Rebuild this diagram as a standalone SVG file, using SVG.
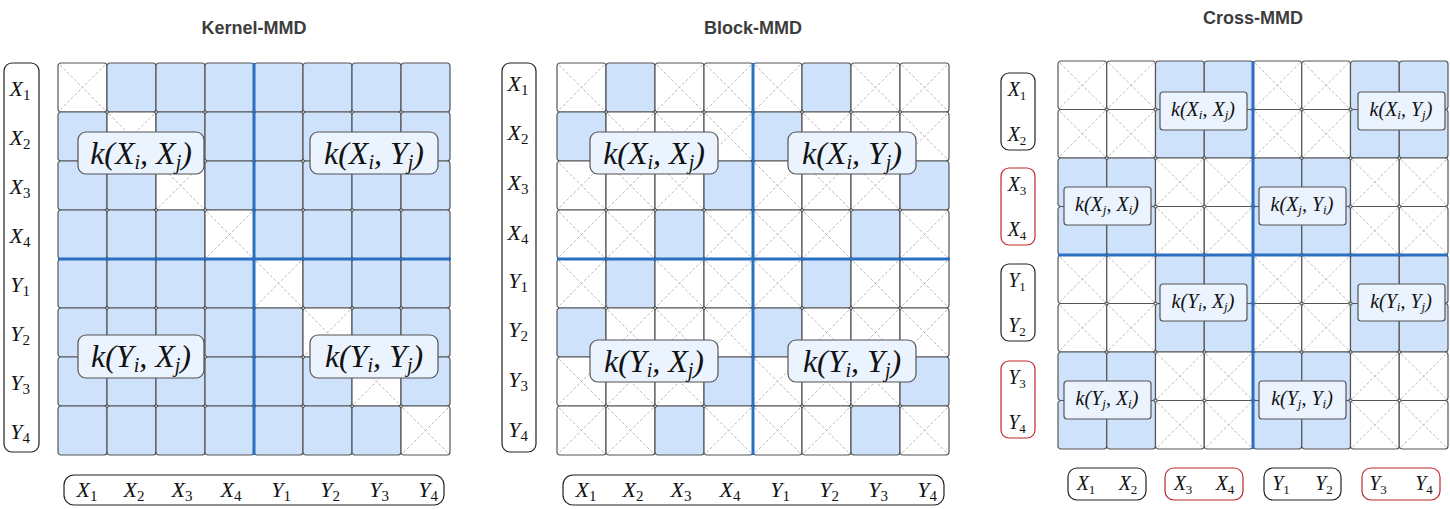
<svg xmlns="http://www.w3.org/2000/svg" xmlns:xlink="http://www.w3.org/1999/xlink" width="1450" height="509" viewBox="0 0 1450 509">
<style>
.t{font-family:"Liberation Sans",Arial,sans-serif;font-weight:bold;font-size:18px;fill:#3d3d3d;text-anchor:middle}
.m{font-family:"Liberation Serif","Times New Roman",serif;font-style:italic;fill:#111;text-anchor:middle}
.n{font-style:normal}
.lb{fill:#fff;stroke:#222;stroke-width:1.2}
.lr{fill:#fff;stroke:#c0282a;stroke-width:1.2}
.kb{fill:#eaf3fe;stroke:#555;stroke-width:1.2}
.bl{fill:#cfe2fb;stroke:#555;stroke-width:1.2}
.wh{fill:#fff;stroke:#555;stroke-width:1.2}
.dg{stroke:#aaa;stroke-width:0.8;stroke-dasharray:3,2}
.sep{stroke:#2a6fc0;stroke-width:3}
</style>
<defs>
<rect id="b" width="49" height="49" rx="3" class="bl"/>
<g id="x"><rect width="49" height="49" rx="3" class="wh"/><path class="dg" d="M2 2L47 47M47 2L2 47"/></g>
<rect id="b2" width="48.75" height="48.5" rx="3" class="bl"/>
<g id="x2"><rect width="48.75" height="48.5" rx="3" class="wh"/><path class="dg" d="M2 2L46.75 46.5M46.75 2L2 46.5"/></g>
</defs>

<text class="t" x="254" y="34">Kernel-MMD</text>
<text class="t" x="753" y="34">Block-MMD</text>
<text class="t" x="1253" y="24">Cross-MMD</text>

<!-- Kernel grid -->
<g id="kernel-grid" transform="translate(58,63)">
<use href="#x" x="0" y="0"/><use href="#b" x="49" y="0"/><use href="#b" x="98" y="0"/><use href="#b" x="147" y="0"/><use href="#b" x="196" y="0"/><use href="#b" x="245" y="0"/><use href="#b" x="294" y="0"/><use href="#b" x="343" y="0"/>
<use href="#b" x="0" y="49"/><use href="#x" x="49" y="49"/><use href="#b" x="98" y="49"/><use href="#b" x="147" y="49"/><use href="#b" x="196" y="49"/><use href="#b" x="245" y="49"/><use href="#b" x="294" y="49"/><use href="#b" x="343" y="49"/>
<use href="#b" x="0" y="98"/><use href="#b" x="49" y="98"/><use href="#x" x="98" y="98"/><use href="#b" x="147" y="98"/><use href="#b" x="196" y="98"/><use href="#b" x="245" y="98"/><use href="#b" x="294" y="98"/><use href="#b" x="343" y="98"/>
<use href="#b" x="0" y="147"/><use href="#b" x="49" y="147"/><use href="#b" x="98" y="147"/><use href="#x" x="147" y="147"/><use href="#b" x="196" y="147"/><use href="#b" x="245" y="147"/><use href="#b" x="294" y="147"/><use href="#b" x="343" y="147"/>
<use href="#b" x="0" y="196"/><use href="#b" x="49" y="196"/><use href="#b" x="98" y="196"/><use href="#b" x="147" y="196"/><use href="#x" x="196" y="196"/><use href="#b" x="245" y="196"/><use href="#b" x="294" y="196"/><use href="#b" x="343" y="196"/>
<use href="#b" x="0" y="245"/><use href="#b" x="49" y="245"/><use href="#b" x="98" y="245"/><use href="#b" x="147" y="245"/><use href="#b" x="196" y="245"/><use href="#x" x="245" y="245"/><use href="#b" x="294" y="245"/><use href="#b" x="343" y="245"/>
<use href="#b" x="0" y="294"/><use href="#b" x="49" y="294"/><use href="#b" x="98" y="294"/><use href="#b" x="147" y="294"/><use href="#b" x="196" y="294"/><use href="#b" x="245" y="294"/><use href="#x" x="294" y="294"/><use href="#b" x="343" y="294"/>
<use href="#b" x="0" y="343"/><use href="#b" x="49" y="343"/><use href="#b" x="98" y="343"/><use href="#b" x="147" y="343"/><use href="#b" x="196" y="343"/><use href="#b" x="245" y="343"/><use href="#b" x="294" y="343"/><use href="#x" x="343" y="343"/>
</g>

<!-- Block grid -->
<g id="block-grid" transform="translate(557,63)">
<use href="#x" x="0" y="0"/><use href="#b" x="49" y="0"/><use href="#x" x="98" y="0"/><use href="#x" x="147" y="0"/><use href="#x" x="196" y="0"/><use href="#b" x="245" y="0"/><use href="#x" x="294" y="0"/><use href="#x" x="343" y="0"/>
<use href="#b" x="0" y="49"/><use href="#x" x="49" y="49"/><use href="#x" x="98" y="49"/><use href="#x" x="147" y="49"/><use href="#b" x="196" y="49"/><use href="#x" x="245" y="49"/><use href="#x" x="294" y="49"/><use href="#x" x="343" y="49"/>
<use href="#x" x="0" y="98"/><use href="#x" x="49" y="98"/><use href="#x" x="98" y="98"/><use href="#b" x="147" y="98"/><use href="#x" x="196" y="98"/><use href="#x" x="245" y="98"/><use href="#x" x="294" y="98"/><use href="#b" x="343" y="98"/>
<use href="#x" x="0" y="147"/><use href="#x" x="49" y="147"/><use href="#b" x="98" y="147"/><use href="#x" x="147" y="147"/><use href="#x" x="196" y="147"/><use href="#x" x="245" y="147"/><use href="#b" x="294" y="147"/><use href="#x" x="343" y="147"/>
<use href="#x" x="0" y="196"/><use href="#b" x="49" y="196"/><use href="#x" x="98" y="196"/><use href="#x" x="147" y="196"/><use href="#x" x="196" y="196"/><use href="#b" x="245" y="196"/><use href="#x" x="294" y="196"/><use href="#x" x="343" y="196"/>
<use href="#b" x="0" y="245"/><use href="#x" x="49" y="245"/><use href="#x" x="98" y="245"/><use href="#x" x="147" y="245"/><use href="#b" x="196" y="245"/><use href="#x" x="245" y="245"/><use href="#x" x="294" y="245"/><use href="#x" x="343" y="245"/>
<use href="#x" x="0" y="294"/><use href="#x" x="49" y="294"/><use href="#x" x="98" y="294"/><use href="#b" x="147" y="294"/><use href="#x" x="196" y="294"/><use href="#x" x="245" y="294"/><use href="#x" x="294" y="294"/><use href="#b" x="343" y="294"/>
<use href="#x" x="0" y="343"/><use href="#x" x="49" y="343"/><use href="#b" x="98" y="343"/><use href="#x" x="147" y="343"/><use href="#x" x="196" y="343"/><use href="#x" x="245" y="343"/><use href="#b" x="294" y="343"/><use href="#x" x="343" y="343"/>
</g>

<!-- Cross grid -->
<g id="cross-grid" transform="translate(1058,61)">
<use href="#x2" x="0" y="0"/><use href="#x2" x="48.75" y="0"/><use href="#b2" x="97.5" y="0"/><use href="#b2" x="146.25" y="0"/><use href="#x2" x="195" y="0"/><use href="#x2" x="243.75" y="0"/><use href="#b2" x="292.5" y="0"/><use href="#b2" x="341.25" y="0"/>
<use href="#x2" x="0" y="48.5"/><use href="#x2" x="48.75" y="48.5"/><use href="#b2" x="97.5" y="48.5"/><use href="#b2" x="146.25" y="48.5"/><use href="#x2" x="195" y="48.5"/><use href="#x2" x="243.75" y="48.5"/><use href="#b2" x="292.5" y="48.5"/><use href="#b2" x="341.25" y="48.5"/>
<use href="#b2" x="0" y="97"/><use href="#b2" x="48.75" y="97"/><use href="#x2" x="97.5" y="97"/><use href="#x2" x="146.25" y="97"/><use href="#b2" x="195" y="97"/><use href="#b2" x="243.75" y="97"/><use href="#x2" x="292.5" y="97"/><use href="#x2" x="341.25" y="97"/>
<use href="#b2" x="0" y="145.5"/><use href="#b2" x="48.75" y="145.5"/><use href="#x2" x="97.5" y="145.5"/><use href="#x2" x="146.25" y="145.5"/><use href="#b2" x="195" y="145.5"/><use href="#b2" x="243.75" y="145.5"/><use href="#x2" x="292.5" y="145.5"/><use href="#x2" x="341.25" y="145.5"/>
<use href="#x2" x="0" y="194"/><use href="#x2" x="48.75" y="194"/><use href="#b2" x="97.5" y="194"/><use href="#b2" x="146.25" y="194"/><use href="#x2" x="195" y="194"/><use href="#x2" x="243.75" y="194"/><use href="#b2" x="292.5" y="194"/><use href="#b2" x="341.25" y="194"/>
<use href="#x2" x="0" y="242.5"/><use href="#x2" x="48.75" y="242.5"/><use href="#b2" x="97.5" y="242.5"/><use href="#b2" x="146.25" y="242.5"/><use href="#x2" x="195" y="242.5"/><use href="#x2" x="243.75" y="242.5"/><use href="#b2" x="292.5" y="242.5"/><use href="#b2" x="341.25" y="242.5"/>
<use href="#b2" x="0" y="291"/><use href="#b2" x="48.75" y="291"/><use href="#x2" x="97.5" y="291"/><use href="#x2" x="146.25" y="291"/><use href="#b2" x="195" y="291"/><use href="#b2" x="243.75" y="291"/><use href="#x2" x="292.5" y="291"/><use href="#x2" x="341.25" y="291"/>
<use href="#b2" x="0" y="339.5"/><use href="#b2" x="48.75" y="339.5"/><use href="#x2" x="97.5" y="339.5"/><use href="#x2" x="146.25" y="339.5"/><use href="#b2" x="195" y="339.5"/><use href="#b2" x="243.75" y="339.5"/><use href="#x2" x="292.5" y="339.5"/><use href="#x2" x="341.25" y="339.5"/>
</g>

<g id="connectors">
<path class="sep" d="M254 63V455M58 259H451"/>
<path class="sep" d="M753 63V455M557 259H950"/>
<path class="sep" d="M1253 61V449M1058 255H1448"/>
</g>

<!-- Kernel labels -->
<g id="kernel-row-labels">
<rect class="lb" x="4" y="63" width="35" height="389" rx="8"/>
<g class="m" font-size="22">
<text x="20" y="96">X<tspan class="n" font-size="15" dy="4">1</tspan></text>
<text x="20" y="145">X<tspan class="n" font-size="15" dy="4">2</tspan></text>
<text x="20" y="194">X<tspan class="n" font-size="15" dy="4">3</tspan></text>
<text x="20" y="243">X<tspan class="n" font-size="15" dy="4">4</tspan></text>
<text x="20" y="292">Y<tspan class="n" font-size="15" dy="4">1</tspan></text>
<text x="20" y="341">Y<tspan class="n" font-size="15" dy="4">2</tspan></text>
<text x="20" y="390">Y<tspan class="n" font-size="15" dy="4">3</tspan></text>
<text x="20" y="439">Y<tspan class="n" font-size="15" dy="4">4</tspan></text>
</g>
</g>
<g id="kernel-col-labels">
<rect class="lb" x="64" y="475" width="380" height="30" rx="10"/>
<g class="m" font-size="22">
<text x="87" y="497">X<tspan class="n" font-size="15" dy="4">1</tspan></text>
<text x="134" y="497">X<tspan class="n" font-size="15" dy="4">2</tspan></text>
<text x="182" y="497">X<tspan class="n" font-size="15" dy="4">3</tspan></text>
<text x="231" y="497">X<tspan class="n" font-size="15" dy="4">4</tspan></text>
<text x="281" y="497">Y<tspan class="n" font-size="15" dy="4">1</tspan></text>
<text x="330" y="497">Y<tspan class="n" font-size="15" dy="4">2</tspan></text>
<text x="379" y="497">Y<tspan class="n" font-size="15" dy="4">3</tspan></text>
<text x="428" y="497">Y<tspan class="n" font-size="15" dy="4">4</tspan></text>
</g>
</g>
<g id="kernel-kxx"><rect class="kb" x="78" y="132" width="126" height="42" rx="8"/><text class="m" font-size="32" x="141" y="164">k(X<tspan font-size="20" dy="5">i</tspan><tspan dy="-5">, X</tspan><tspan font-size="20" dy="5">j</tspan><tspan dy="-5">)</tspan></text></g>
<g id="kernel-kxy"><rect class="kb" x="310" y="132" width="128" height="42" rx="8"/><text class="m" font-size="32" x="374" y="164">k(X<tspan font-size="20" dy="5">i</tspan><tspan dy="-5">, Y</tspan><tspan font-size="20" dy="5">j</tspan><tspan dy="-5">)</tspan></text></g>
<g id="kernel-kyx"><rect class="kb" x="78" y="335" width="126" height="43" rx="8"/><text class="m" font-size="32" x="141" y="367">k(Y<tspan font-size="20" dy="5">i</tspan><tspan dy="-5">, X</tspan><tspan font-size="20" dy="5">j</tspan><tspan dy="-5">)</tspan></text></g>
<g id="kernel-kyy"><rect class="kb" x="310" y="335" width="128" height="43" rx="8"/><text class="m" font-size="32" x="374" y="367">k(Y<tspan font-size="20" dy="5">i</tspan><tspan dy="-5">, Y</tspan><tspan font-size="20" dy="5">j</tspan><tspan dy="-5">)</tspan></text></g>

<!-- Block labels -->
<g id="block-row-labels">
<rect class="lb" x="502" y="63" width="34" height="389" rx="8"/>
<g class="m" font-size="22">
<text x="518" y="91">X<tspan class="n" font-size="15" dy="4">1</tspan></text>
<text x="518" y="140">X<tspan class="n" font-size="15" dy="4">2</tspan></text>
<text x="518" y="190">X<tspan class="n" font-size="15" dy="4">3</tspan></text>
<text x="518" y="240">X<tspan class="n" font-size="15" dy="4">4</tspan></text>
<text x="518" y="288">Y<tspan class="n" font-size="15" dy="4">1</tspan></text>
<text x="518" y="337">Y<tspan class="n" font-size="15" dy="4">2</tspan></text>
<text x="518" y="387">Y<tspan class="n" font-size="15" dy="4">3</tspan></text>
<text x="518" y="437">Y<tspan class="n" font-size="15" dy="4">4</tspan></text>
</g>
</g>
<g id="block-col-labels">
<rect class="lb" x="563" y="475" width="381" height="30" rx="10"/>
<g class="m" font-size="22">
<text x="586" y="497">X<tspan class="n" font-size="15" dy="4">1</tspan></text>
<text x="633" y="497">X<tspan class="n" font-size="15" dy="4">2</tspan></text>
<text x="681" y="497">X<tspan class="n" font-size="15" dy="4">3</tspan></text>
<text x="730" y="497">X<tspan class="n" font-size="15" dy="4">4</tspan></text>
<text x="780" y="497">Y<tspan class="n" font-size="15" dy="4">1</tspan></text>
<text x="829" y="497">Y<tspan class="n" font-size="15" dy="4">2</tspan></text>
<text x="878" y="497">Y<tspan class="n" font-size="15" dy="4">3</tspan></text>
<text x="927" y="497">Y<tspan class="n" font-size="15" dy="4">4</tspan></text>
</g>
</g>
<g id="block-kxx"><rect class="kb" x="590" y="132" width="128" height="42" rx="8"/><text class="m" font-size="32" x="654" y="164">k(X<tspan font-size="20" dy="5">i</tspan><tspan dy="-5">, X</tspan><tspan font-size="20" dy="5">j</tspan><tspan dy="-5">)</tspan></text></g>
<g id="block-kxy"><rect class="kb" x="788" y="132" width="128" height="42" rx="8"/><text class="m" font-size="32" x="852" y="164">k(X<tspan font-size="20" dy="5">i</tspan><tspan dy="-5">, Y</tspan><tspan font-size="20" dy="5">j</tspan><tspan dy="-5">)</tspan></text></g>
<g id="block-kyx"><rect class="kb" x="590" y="340" width="128" height="42" rx="8"/><text class="m" font-size="32" x="654" y="372">k(Y<tspan font-size="20" dy="5">i</tspan><tspan dy="-5">, X</tspan><tspan font-size="20" dy="5">j</tspan><tspan dy="-5">)</tspan></text></g>
<g id="block-kyy"><rect class="kb" x="788" y="340" width="128" height="42" rx="8"/><text class="m" font-size="32" x="852" y="372">k(Y<tspan font-size="20" dy="5">i</tspan><tspan dy="-5">, Y</tspan><tspan font-size="20" dy="5">j</tspan><tspan dy="-5">)</tspan></text></g>

<!-- Cross labels -->
<g id="cross-row-labels" class="m" font-size="20">
<rect class="lb" x="1001" y="73" width="34" height="77" rx="8"/>
<text x="1017" y="96">X<tspan class="n" font-size="13" dy="4">1</tspan></text>
<text x="1017" y="141">X<tspan class="n" font-size="13" dy="4">2</tspan></text>
<rect class="lr" x="1001" y="168" width="34" height="77" rx="8"/>
<text x="1017" y="191">X<tspan class="n" font-size="13" dy="4">3</tspan></text>
<text x="1017" y="236">X<tspan class="n" font-size="13" dy="4">4</tspan></text>
<rect class="lb" x="1001" y="264" width="34" height="77" rx="8"/>
<text x="1017" y="287">Y<tspan class="n" font-size="13" dy="4">1</tspan></text>
<text x="1017" y="332">Y<tspan class="n" font-size="13" dy="4">2</tspan></text>
<rect class="lr" x="1001" y="361" width="34" height="77" rx="8"/>
<text x="1017" y="384">Y<tspan class="n" font-size="13" dy="4">3</tspan></text>
<text x="1017" y="429">Y<tspan class="n" font-size="13" dy="4">4</tspan></text>
</g>
<g id="cross-col-labels" class="m" font-size="20">
<rect class="lb" x="1068" y="468" width="78" height="32" rx="9"/>
<text x="1086" y="490">X<tspan class="n" font-size="13" dy="4">1</tspan></text>
<text x="1128" y="490">X<tspan class="n" font-size="13" dy="4">2</tspan></text>
<rect class="lr" x="1165" y="468" width="78" height="32" rx="9"/>
<text x="1183" y="490">X<tspan class="n" font-size="13" dy="4">3</tspan></text>
<text x="1225" y="490">X<tspan class="n" font-size="13" dy="4">4</tspan></text>
<rect class="lb" x="1264" y="468" width="77" height="32" rx="9"/>
<text x="1281" y="490">Y<tspan class="n" font-size="13" dy="4">1</tspan></text>
<text x="1324" y="490">Y<tspan class="n" font-size="13" dy="4">2</tspan></text>
<rect class="lr" x="1362" y="468" width="78" height="32" rx="9"/>
<text x="1378" y="490">Y<tspan class="n" font-size="13" dy="4">3</tspan></text>
<text x="1424" y="490">Y<tspan class="n" font-size="13" dy="4">4</tspan></text>
</g>
<g id="cross-k1"><rect class="kb" x="1160" y="92" width="87" height="38" rx="3"/><text class="m" font-size="20" x="1203" y="116">k(X<tspan font-size="13" dy="3">i</tspan><tspan dy="-3">, X</tspan><tspan font-size="13" dy="3">j</tspan><tspan dy="-3">)</tspan></text></g>
<g id="cross-k2"><rect class="kb" x="1358" y="92" width="87" height="38" rx="3"/><text class="m" font-size="20" x="1401" y="116">k(X<tspan font-size="13" dy="3">i</tspan><tspan dy="-3">, Y</tspan><tspan font-size="13" dy="3">j</tspan><tspan dy="-3">)</tspan></text></g>
<g id="cross-k3"><rect class="kb" x="1064" y="187" width="87" height="38" rx="3"/><text class="m" font-size="20" x="1107" y="211">k(X<tspan font-size="13" dy="3">j</tspan><tspan dy="-3">, X</tspan><tspan font-size="13" dy="3">i</tspan><tspan dy="-3">)</tspan></text></g>
<g id="cross-k4"><rect class="kb" x="1259" y="187" width="87" height="38" rx="3"/><text class="m" font-size="20" x="1302" y="211">k(X<tspan font-size="13" dy="3">j</tspan><tspan dy="-3">, Y</tspan><tspan font-size="13" dy="3">i</tspan><tspan dy="-3">)</tspan></text></g>
<g id="cross-k5"><rect class="kb" x="1160" y="284" width="87" height="37" rx="3"/><text class="m" font-size="20" x="1203" y="308">k(Y<tspan font-size="13" dy="3">i</tspan><tspan dy="-3">, X</tspan><tspan font-size="13" dy="3">j</tspan><tspan dy="-3">)</tspan></text></g>
<g id="cross-k6"><rect class="kb" x="1358" y="284" width="87" height="37" rx="3"/><text class="m" font-size="20" x="1401" y="308">k(Y<tspan font-size="13" dy="3">i</tspan><tspan dy="-3">, Y</tspan><tspan font-size="13" dy="3">j</tspan><tspan dy="-3">)</tspan></text></g>
<g id="cross-k7"><rect class="kb" x="1064" y="381" width="87" height="38" rx="3"/><text class="m" font-size="20" x="1107" y="405">k(Y<tspan font-size="13" dy="3">j</tspan><tspan dy="-3">, X</tspan><tspan font-size="13" dy="3">i</tspan><tspan dy="-3">)</tspan></text></g>
<g id="cross-k8"><rect class="kb" x="1259" y="381" width="87" height="38" rx="3"/><text class="m" font-size="20" x="1302" y="405">k(Y<tspan font-size="13" dy="3">j</tspan><tspan dy="-3">, Y</tspan><tspan font-size="13" dy="3">i</tspan><tspan dy="-3">)</tspan></text></g>
</svg>
